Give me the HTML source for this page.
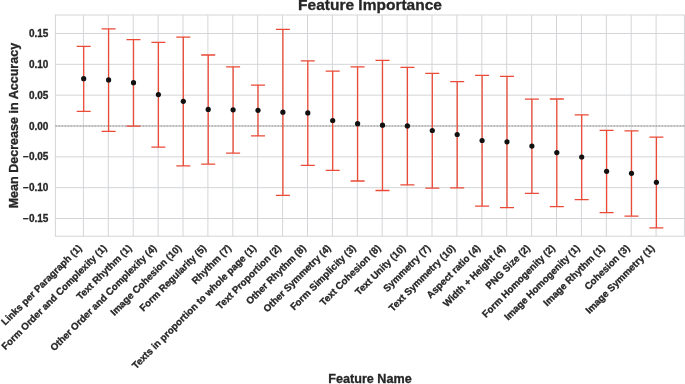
<!DOCTYPE html><html><head><meta charset="utf-8"><title>Feature Importance</title>
<style>html,body{margin:0;padding:0;background:#fff;overflow:hidden}svg{display:block}text{font-family:"Liberation Sans",Arial,sans-serif;font-weight:bold;fill:#262626;stroke:#262626;stroke-width:0.3px}</style></head><body>
<svg width="685" height="384" viewBox="0 0 685 384">
<rect width="685" height="384" fill="#fff"/>
<g stroke="#d3d5d8" stroke-width="1" fill="none">
<line x1="83.40" y1="15.00" x2="83.40" y2="236.20"/>
<line x1="108.30" y1="15.00" x2="108.30" y2="236.20"/>
<line x1="133.20" y1="15.00" x2="133.20" y2="236.20"/>
<line x1="158.10" y1="15.00" x2="158.10" y2="236.20"/>
<line x1="183.00" y1="15.00" x2="183.00" y2="236.20"/>
<line x1="207.90" y1="15.00" x2="207.90" y2="236.20"/>
<line x1="232.80" y1="15.00" x2="232.80" y2="236.20"/>
<line x1="257.70" y1="15.00" x2="257.70" y2="236.20"/>
<line x1="282.60" y1="15.00" x2="282.60" y2="236.20"/>
<line x1="307.50" y1="15.00" x2="307.50" y2="236.20"/>
<line x1="332.40" y1="15.00" x2="332.40" y2="236.20"/>
<line x1="357.30" y1="15.00" x2="357.30" y2="236.20"/>
<line x1="382.20" y1="15.00" x2="382.20" y2="236.20"/>
<line x1="407.10" y1="15.00" x2="407.10" y2="236.20"/>
<line x1="432.00" y1="15.00" x2="432.00" y2="236.20"/>
<line x1="456.90" y1="15.00" x2="456.90" y2="236.20"/>
<line x1="481.80" y1="15.00" x2="481.80" y2="236.20"/>
<line x1="506.70" y1="15.00" x2="506.70" y2="236.20"/>
<line x1="531.60" y1="15.00" x2="531.60" y2="236.20"/>
<line x1="556.50" y1="15.00" x2="556.50" y2="236.20"/>
<line x1="581.40" y1="15.00" x2="581.40" y2="236.20"/>
<line x1="606.30" y1="15.00" x2="606.30" y2="236.20"/>
<line x1="631.20" y1="15.00" x2="631.20" y2="236.20"/>
<line x1="656.10" y1="15.00" x2="656.10" y2="236.20"/>
<line x1="55.40" y1="218.49" x2="684.40" y2="218.49"/>
<line x1="55.40" y1="187.66" x2="684.40" y2="187.66"/>
<line x1="55.40" y1="156.83" x2="684.40" y2="156.83"/>
<line x1="55.40" y1="126.00" x2="684.40" y2="126.00"/>
<line x1="55.40" y1="95.17" x2="684.40" y2="95.17"/>
<line x1="55.40" y1="64.34" x2="684.40" y2="64.34"/>
<line x1="55.40" y1="33.51" x2="684.40" y2="33.51"/>
<rect x="55.40" y="15.00" width="629.00" height="221.20"/>
</g>
<line x1="55.40" y1="126.00" x2="684.40" y2="126.00" stroke="#8c8c8c" stroke-width="1" stroke-dasharray="2 1"/>
<g stroke="#ea4a36" stroke-width="1.3" fill="none">
<path d="M83.70 46.40V111.40M76.70 46.40H90.70M76.70 111.40H90.70"/>
<path d="M108.60 28.90V131.40M101.60 28.90H115.60M101.60 131.40H115.60"/>
<path d="M133.50 39.70V126.10M126.50 39.70H140.50M126.50 126.10H140.50"/>
<path d="M158.40 42.40V147.20M151.40 42.40H165.40M151.40 147.20H165.40"/>
<path d="M183.30 37.10V165.90M176.30 37.10H190.30M176.30 165.90H190.30"/>
<path d="M208.20 55.00V164.20M201.20 55.00H215.20M201.20 164.20H215.20"/>
<path d="M233.10 66.80V153.20M226.10 66.80H240.10M226.10 153.20H240.10"/>
<path d="M258.00 85.10V135.90M251.00 85.10H265.00M251.00 135.90H265.00"/>
<path d="M282.90 29.40V195.40M275.90 29.40H289.90M275.90 195.40H289.90"/>
<path d="M307.80 60.80V165.40M300.80 60.80H314.80M300.80 165.40H314.80"/>
<path d="M332.70 71.10V170.30M325.70 71.10H339.70M325.70 170.30H339.70"/>
<path d="M357.60 66.80V181.00M350.60 66.80H364.60M350.60 181.00H364.60"/>
<path d="M382.50 60.30V190.50M375.50 60.30H389.50M375.50 190.50H389.50"/>
<path d="M407.40 67.30V184.90M400.40 67.30H414.40M400.40 184.90H414.40"/>
<path d="M432.30 73.30V188.10M425.30 73.30H439.30M425.30 188.10H439.30"/>
<path d="M457.20 81.60V187.80M450.20 81.60H464.20M450.20 187.80H464.20"/>
<path d="M482.10 75.30V206.10M475.10 75.30H489.10M475.10 206.10H489.10"/>
<path d="M507.00 76.30V207.70M500.00 76.30H514.00M500.00 207.70H514.00"/>
<path d="M531.90 99.20V193.40M524.90 99.20H538.90M524.90 193.40H538.90"/>
<path d="M556.80 99.00V206.60M549.80 99.00H563.80M549.80 206.60H563.80"/>
<path d="M581.70 114.80V199.60M574.70 114.80H588.70M574.70 199.60H588.70"/>
<path d="M606.60 130.40V212.60M599.60 130.40H613.60M599.60 212.60H613.60"/>
<path d="M631.50 130.90V216.10M624.50 130.90H638.50M624.50 216.10H638.50"/>
<path d="M656.40 137.20V227.80M649.40 137.20H663.40M649.40 227.80H663.40"/>
</g>
<g fill="#111">
<circle cx="83.70" cy="78.70" r="2.6"/>
<circle cx="108.60" cy="79.95" r="2.6"/>
<circle cx="133.50" cy="82.70" r="2.6"/>
<circle cx="158.40" cy="94.60" r="2.6"/>
<circle cx="183.30" cy="101.30" r="2.6"/>
<circle cx="208.20" cy="109.40" r="2.6"/>
<circle cx="233.10" cy="109.80" r="2.6"/>
<circle cx="258.00" cy="110.30" r="2.6"/>
<circle cx="282.90" cy="112.20" r="2.6"/>
<circle cx="307.80" cy="112.90" r="2.6"/>
<circle cx="332.70" cy="120.50" r="2.6"/>
<circle cx="357.60" cy="123.70" r="2.6"/>
<circle cx="382.50" cy="125.20" r="2.6"/>
<circle cx="407.40" cy="125.90" r="2.6"/>
<circle cx="432.30" cy="130.50" r="2.6"/>
<circle cx="457.20" cy="134.50" r="2.6"/>
<circle cx="482.10" cy="140.50" r="2.6"/>
<circle cx="507.00" cy="141.80" r="2.6"/>
<circle cx="531.90" cy="146.10" r="2.6"/>
<circle cx="556.80" cy="152.60" r="2.6"/>
<circle cx="581.70" cy="157.00" r="2.6"/>
<circle cx="606.60" cy="171.30" r="2.6"/>
<circle cx="631.50" cy="173.30" r="2.6"/>
<circle cx="656.40" cy="182.30" r="2.6"/>
</g>
<g font-size="10" text-anchor="end">
<text x="48.4" y="222.09">−0.15</text>
<text x="48.4" y="191.26">−0.10</text>
<text x="48.4" y="160.43">−0.05</text>
<text x="48.4" y="129.60">0.00</text>
<text x="48.4" y="98.77">0.05</text>
<text x="48.4" y="67.94">0.10</text>
<text x="48.4" y="37.11">0.15</text>
</g>
<g font-size="9.77" text-anchor="end">
<text transform="translate(82.40 248.70) rotate(-45)">Links per Paragraph (1)</text>
<text transform="translate(107.30 248.70) rotate(-45)">Form Order and Complexity (1)</text>
<text transform="translate(132.20 248.70) rotate(-45)">Text Rhythm (1)</text>
<text transform="translate(157.10 248.70) rotate(-45)">Other Order and Complexity (4)</text>
<text transform="translate(182.00 248.70) rotate(-45)">Image Cohesion (10)</text>
<text transform="translate(206.90 248.70) rotate(-45)">Form Regularity (5)</text>
<text transform="translate(231.80 248.70) rotate(-45)">Rhythm (7)</text>
<text transform="translate(256.70 248.70) rotate(-45)">Texts in proportion to whole page (1)</text>
<text transform="translate(281.60 248.70) rotate(-45)">Text Proportion (2)</text>
<text transform="translate(306.50 248.70) rotate(-45)">Other Rhythm (8)</text>
<text transform="translate(331.40 248.70) rotate(-45)">Other Symmetry (4)</text>
<text transform="translate(356.30 248.70) rotate(-45)">Form Simplicity (3)</text>
<text transform="translate(381.20 248.70) rotate(-45)">Text Cohesion (8)</text>
<text transform="translate(406.10 248.70) rotate(-45)">Text Unity (10)</text>
<text transform="translate(431.00 248.70) rotate(-45)">Symmetry (7)</text>
<text transform="translate(455.90 248.70) rotate(-45)">Text Symmetry (10)</text>
<text transform="translate(480.80 248.70) rotate(-45)">Aspect ratio (4)</text>
<text transform="translate(505.70 248.70) rotate(-45)">Width + Height (4)</text>
<text transform="translate(530.60 248.70) rotate(-45)">PNG Size (2)</text>
<text transform="translate(555.50 248.70) rotate(-45)">Form Homogenity (2)</text>
<text transform="translate(580.40 248.70) rotate(-45)">Image Homogenity (1)</text>
<text transform="translate(605.30 248.70) rotate(-45)">Image Rhythm (1)</text>
<text transform="translate(630.20 248.70) rotate(-45)">Cohesion (3)</text>
<text transform="translate(655.10 248.70) rotate(-45)">Image Symmetry (1)</text>
</g>
<text x="370" y="10.2" font-size="15.5" text-anchor="middle">Feature Importance</text>
<text x="370" y="383.4" font-size="12.6" text-anchor="middle">Feature Name</text>
<text transform="translate(18.3 125.6) rotate(-90)" font-size="12.55" text-anchor="middle">Mean Decrease in Accuracy</text>
</svg></body></html>
